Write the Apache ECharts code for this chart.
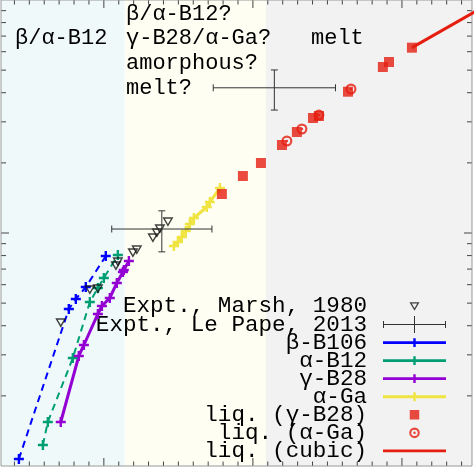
<!DOCTYPE html>
<html><head><meta charset="utf-8">
<script src="https://cdn.jsdelivr.net/npm/echarts@6/dist/echarts.min.js"></script>
<style>html,body{margin:0;padding:0;background:#fff}#c{width:474px;height:467px}</style>
</head><body><div id="c"></div>
<script>
// axis extents and ticks
const xRange = [2.31, 5.47];
const yRange = [10, 1000];
const phaseBounds = [3.14, 4.087];
const xMajorTicks = [3, 4, 5];
const xMinorTicks = [2.4,2.5,2.6,2.7,2.8,2.9,3.1,3.2,3.3,3.4,3.5,3.6,3.7,3.8,3.9,4.1,4.2,4.3,4.4,4.5,4.6,4.7,4.8,4.9,5.1,5.2,5.3,5.4];
const yMajorTicks = [100];
const yMinorTicks = [20,30,40,50,60,70,80,90,200,300,400,500,600,700,800,900];

// data
const marsh1980 = [[3.430,111.5],[3.376,104.0],[3.356,100.0],[3.329,95.2],[3.221,84.5],[3.195,82.1],[3.094,75.1],[3.081,72.2],[2.960,57.5],[2.906,56.9],[2.711,41.1]];
// [x, y, xErr, yLow, yHigh]
const lePape2013 = [[3.389,104,0.336,83,124.5],[4.144,420,0.41,337,501]];
const betaB106 = [[2.430,10.72],[2.765,47.19],[2.812,52.09],[2.879,58.64],[3.013,79.65]];
const alphaB12 = [[2.591,12.31],[2.624,15.45],[2.792,29.08],[2.906,50.58],[2.960,58.07],[3.000,64.11],[3.094,80.44]];
const gammaB28 = [[2.711,15.45],[2.832,29.66],[2.866,33.06],[2.960,44.92],[2.987,48.62],[3.040,52.61],[3.087,61.02],[3.128,68.01],[3.134,69.37],[3.168,75.83]];
const alphaGa = [[3.470,87.9],[3.497,91.5],[3.523,96.1],[3.550,102.0],[3.577,109.3],[3.604,116.0],[3.691,129.3],[3.711,135.8],[3.779,156.0]];
const liqGammaB28 = [[3.792,147.0],[3.933,175.6],[4.054,199.7],[4.195,238.6],[4.295,271.3],[4.403,311.6],[4.443,317.8],[4.638,404.1],[4.872,515.7],[4.913,541.9],[5.067,624.3]];
const liqAlphaGa = [[4.228,248.2],[4.329,279.5],[4.443,320.9],[4.658,415.0]];
const liqCubic = [[5.067,624.3],[5.591,970.8]];

const legendNames = ['Expt., Marsh, 1980','Expt., Le Pape, 2013','β-B106','α-B12','γ-B28','α-Ga','liq. (γ-B28)','liq. (α-Ga)','liq. (cubic)'];
const regionLabels = [
  {t:'β/α-B12', x:15, y:38},
  {t:'β/α-B12?', x:126, y:14},
  {t:'γ-B28/α-Ga?', x:126, y:38.5},
  {t:'amorphous?', x:126, y:63},
  {t:'melt?', x:126, y:88},
  {t:'melt', x:311, y:38.5}
];

const FONT = '"Liberation Mono", "DejaVu Sans Mono", monospace';
const crossSym = 'path://M3.8,0h2.4v10h-2.4z M0,3.8h10v2.4h-10z';
const triSym = 'path://M0,0L10,0L5,8.66Z M2.25,1.3L5,6.06L7.75,1.3Z';
const ringSym = 'path://M0,5A5,5 0 1 1 10,5A5,5 0 1 1 0,5Z M2,5A3,3 0 1 0 8,5A3,3 0 1 0 2,5Z M3.8,5A1.2,1.2 0 1 1 6.2,5A1.2,1.2 0 1 1 3.8,5Z';

const corners = 'M0,0h0.01v0.01h-0.01z M74,18h-0.01v-0.01h0.01z ';
const icons = {
  marsh: 'path://' + corners + 'M37.5,4.67L47.5,4.67L42.5,13.33Z M39.75,5.97L42.5,10.74L45.25,5.97Z',
  lepape: 'path://' + corners + 'M11,8.5h63v1h-63z M11,5.5h1v7h-1z M73,5.5h1v7h-1z M42,0.5h1v17h-1z',
  phase: 'path://' + corners + 'M11,7.6h63v2.8h-63z M41.3,4.6h2.4v8.8h-2.4z',
  square: 'path://' + corners + 'M37.75,4.25h9.5v9.5h-9.5z',
  ring: 'path://' + corners + 'M37.2,9A5.3,5.3 0 1 1 47.8,9A5.3,5.3 0 1 1 37.2,9Z M39.3,9A3.2,3.2 0 1 0 45.7,9A3.2,3.2 0 1 0 39.3,9Z M41.2,9A1.3,1.3 0 1 1 43.8,9A1.3,1.3 0 1 1 41.2,9Z',
  line: 'path://' + corners + 'M11,7.6h63v2.8h-63z'
};

function tickSeries(values, dir, len) {
  return {
    type: 'custom', silent: true, z: 6, clip: false,
    data: values.map(v => dir === 'x' ? [v, 100] : [3, v]),
    encode: {x: 0, y: 1},
    renderItem: function (params, api) {
      const cs = params.coordSys;
      const st = {stroke: '#444', lineWidth: 1};
      if (dir === 'x') {
        const x = api.coord([api.value(0), 100])[0];
        const yb = cs.y + cs.height, yt = cs.y;
        return {type: 'group', children: [
          {type: 'line', shape: {x1: x, y1: yb, x2: x, y2: yb - len}, style: st},
          {type: 'line', shape: {x1: x, y1: yt, x2: x, y2: yt + len}, style: st}
        ]};
      } else {
        const y = api.coord([3, api.value(1)])[1];
        const xl = cs.x, xr = cs.x + cs.width;
        return {type: 'group', children: [
          {type: 'line', shape: {x1: xl, y1: y, x2: xl + len, y2: y}, style: st},
          {type: 'line', shape: {x1: xr, y1: y, x2: xr - len, y2: y}, style: st}
        ]};
      }
    }
  };
}

const chart = echarts.init(document.getElementById('c'));
chart.setOption({
  animation: false,
  backgroundColor: '#fff',
  grid: {left: 1, right: 2, top: 0, bottom: 1, show: true, borderColor: '#999', borderWidth: 1, z: 8, backgroundColor: 'transparent'},
  xAxis: {type: 'value', min: xRange[0], max: xRange[1], axisLine: {show: false}, axisTick: {show: false}, axisLabel: {show: false}, splitLine: {show: false}},
  yAxis: {type: 'log', min: yRange[0], max: yRange[1], axisLine: {show: false}, axisTick: {show: false}, axisLabel: {show: false}, splitLine: {show: false}},
  legend: {
    orient: 'vertical', right: 28, top: 295, height: 300, padding: 0, itemGap: -4.95,
    itemWidth: 74, itemHeight: 18, align: 'right', selectedMode: false,
    textStyle: {fontFamily: FONT, fontSize: 22.6, color: '#000'},
    itemStyle: {borderWidth: 0},
    data: [
      {name: legendNames[0], icon: icons.marsh},
      {name: legendNames[1], icon: icons.lepape},
      {name: legendNames[2], icon: icons.phase},
      {name: legendNames[3], icon: icons.phase},
      {name: legendNames[4], icon: icons.phase},
      {name: legendNames[5], icon: icons.phase},
      {name: legendNames[6], icon: icons.square},
      {name: legendNames[7], icon: icons.ring},
      {name: legendNames[8], icon: icons.line}
    ]
  },
  graphic: regionLabels.map(l => ({
    type: 'text', x: l.x, y: l.y, z: 20,
    style: {text: l.t, font: '22px ' + FONT, fill: '#000', verticalAlign: 'middle', align: 'left'}
  })),
  series: [
    {
      type: 'line', data: [], silent: true, z: 1,
      markArea: {silent: true, itemStyle: {borderWidth: 0}, data: [
        [{xAxis: xRange[0], itemStyle: {color: '#eff9f9'}}, {xAxis: phaseBounds[0]}],
        [{xAxis: phaseBounds[0], itemStyle: {color: '#fefef3'}}, {xAxis: phaseBounds[1]}],
        [{xAxis: phaseBounds[1], itemStyle: {color: '#f2f2f2'}}, {xAxis: xRange[1]}]
      ]}
    },
    tickSeries(xMajorTicks, 'x', 8),
    tickSeries(xMinorTicks, 'x', 4.5),
    tickSeries(yMajorTicks, 'y', 8),
    tickSeries(yMinorTicks, 'y', 5),
    {
      name: legendNames[2], type: 'line', data: betaB106, z: 10,
      symbol: crossSym, symbolSize: 10, showAllSymbol: true,
      itemStyle: {color: '#0000ff'}, lineStyle: {color: '#0000ff', width: 2, type: [7, 5]}
    },
    {
      name: legendNames[3], type: 'line', data: alphaB12, z: 10,
      symbol: crossSym, symbolSize: 10, showAllSymbol: true,
      itemStyle: {color: '#009e73'}, lineStyle: {color: '#009e73', width: 2, type: [7, 5]}
    },
    {
      name: legendNames[4], type: 'line', data: gammaB28, z: 10,
      symbol: crossSym, symbolSize: 10, showAllSymbol: true,
      itemStyle: {color: '#9400d3'}, lineStyle: {color: '#9400d3', width: 3}
    },
    {
      name: legendNames[5], type: 'line', data: alphaGa, z: 10,
      symbol: crossSym, symbolSize: 10, showAllSymbol: true,
      itemStyle: {color: '#f0e442'}, lineStyle: {color: '#f0e442', width: 3}
    },
    {
      name: legendNames[8], type: 'line', data: liqCubic, z: 10, symbol: 'none',
      itemStyle: {color: '#e51e10'}, lineStyle: {color: '#e51e10', width: 3}
    },
    {
      name: legendNames[6], type: 'scatter', data: liqGammaB28, z: 11,
      symbol: 'rect', symbolSize: 10, itemStyle: {color: '#e51e10'}
    },
    {
      name: legendNames[7], type: 'scatter', data: liqAlphaGa, z: 12,
      symbol: ringSym, symbolSize: 11, itemStyle: {color: '#e51e10'}
    },
    {
      name: legendNames[0], type: 'scatter', data: marsh1980, z: 13,
      symbol: triSym, symbolSize: [11, 9.5], itemStyle: {color: '#111'}
    },
    {
      name: legendNames[1], type: 'custom', z: 14, clip: false,
      data: lePape2013, encode: {x: 0, y: 1},
      itemStyle: {color: '#333'},
      renderItem: function (params, api) {
        const x = api.value(0), y = api.value(1), ex = api.value(2), lo = api.value(3), hi = api.value(4);
        const l = api.coord([x - ex, y]), r = api.coord([x + ex, y]);
        const t = api.coord([x, hi]), b = api.coord([x, lo]);
        const st = {stroke: '#333', lineWidth: 1};
        const cap = 3.5;
        return {type: 'group', children: [
          {type: 'line', shape: {x1: l[0], y1: l[1], x2: r[0], y2: r[1]}, style: st},
          {type: 'line', shape: {x1: l[0], y1: l[1] - cap, x2: l[0], y2: l[1] + cap}, style: st},
          {type: 'line', shape: {x1: r[0], y1: r[1] - cap, x2: r[0], y2: r[1] + cap}, style: st},
          {type: 'line', shape: {x1: t[0], y1: t[1], x2: b[0], y2: b[1]}, style: st},
          {type: 'line', shape: {x1: t[0] - cap, y1: t[1], x2: t[0] + cap, y2: t[1]}, style: st},
          {type: 'line', shape: {x1: b[0] - cap, y1: b[1], x2: b[0] + cap, y2: b[1]}, style: st}
        ]};
      }
    }
  ]
});
</script></body></html>
